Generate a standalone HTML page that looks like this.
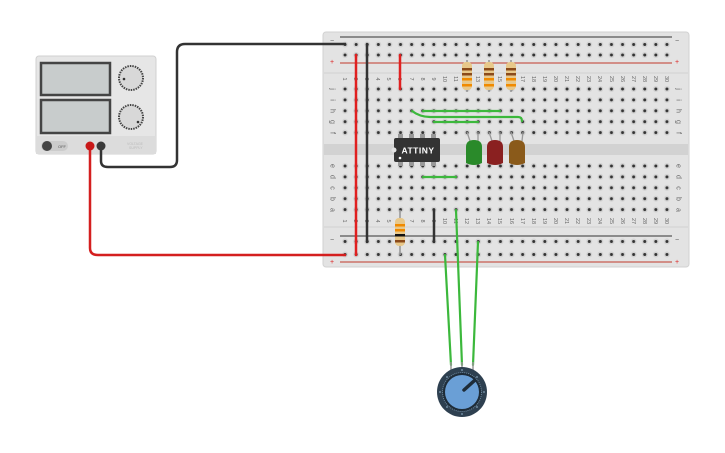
<!DOCTYPE html>
<html><head><meta charset="utf-8"><style>
html,body{margin:0;padding:0;background:#fff;}
svg{display:block;}
text{font-family:"Liberation Sans",sans-serif;}
</style></head><body>
<svg width="725" height="453" viewBox="0 0 725 453" xmlns="http://www.w3.org/2000/svg">
<defs>
<pattern id="row" x="339.5" y="0" width="11.1" height="11" patternUnits="userSpaceOnUse">
<circle cx="5.55" cy="5.5" r="3" fill="#d2d2d2"/><circle cx="5.55" cy="5.5" r="1.5" fill="#333"/>
</pattern>
<g id="res">
<line x1="0" y1="-16" x2="0" y2="16" stroke="#999" stroke-width="1.6"/>
<rect x="-5" y="-14" width="10" height="28" rx="4" fill="#e8c88a"/>
<rect x="-5" y="-8" width="10" height="2.5" fill="#8b4a1a"/>
<rect x="-5" y="-3" width="10" height="2.5" fill="#8b4a1a"/>
<rect x="-5" y="2" width="10" height="2.5" fill="#f08a00"/>
<rect x="-5" y="8" width="10" height="2.5" fill="#f08a00"/>
</g>
</defs>

<!-- power supply -->
<rect x="36" y="56" width="120" height="98" rx="3" fill="#e6e6e6" stroke="#d0d0d0"/>
<rect x="36" y="136" width="120" height="18" fill="#dcdcdc"/>
<rect x="41" y="63" width="69" height="32" fill="#c8cccc" stroke="#444" stroke-width="2.5"/>
<rect x="41" y="100" width="69" height="33" fill="#c8cccc" stroke="#444" stroke-width="2.5"/>
<circle cx="131" cy="78" r="12" fill="#d8d8d8" stroke="#444" stroke-width="2" stroke-dasharray="1.5 1"/>
<circle cx="131" cy="117" r="12" fill="#d8d8d8" stroke="#444" stroke-width="2" stroke-dasharray="1.5 1"/>
<circle cx="124" cy="79" r="1.3" fill="#333"/><circle cx="138" cy="122" r="1.3" fill="#333"/>
<rect x="41" y="141" width="27" height="10" rx="5" fill="#ccc"/><circle cx="47" cy="146" r="5" fill="#444"/>
<text x="58" y="148" font-size="4" fill="#555">OFF</text>
<text x="127" y="145" font-size="3.5" fill="#bbb">VOLTAGE</text>
<text x="129" y="149" font-size="3.5" fill="#bbb">SUPPLY</text>

<!-- breadboard -->
<rect x="323" y="32" width="366" height="235" rx="3" fill="#e3e3e3" stroke="#d2d2d2"/>
<rect x="324" y="144" width="364" height="11" fill="#d2d2d2"/>
<line x1="324" y1="73" x2="688" y2="73" stroke="#d0d0d0"/>
<line x1="324" y1="227" x2="688" y2="227" stroke="#d0d0d0"/>
<line x1="340" y1="37" x2="672" y2="37" stroke="#333" stroke-width="1"/>
<line x1="340" y1="63" x2="672" y2="63" stroke="#c0392b" stroke-width="1"/>
<line x1="340" y1="236" x2="672" y2="236" stroke="#333" stroke-width="1"/>
<line x1="340" y1="262" x2="672" y2="262" stroke="#c0392b" stroke-width="1"/>
<g>
<rect x="339.5" y="0" width="333" height="11" fill="url(#row)" transform="translate(0,39)"/>
<rect x="339.5" y="0" width="333" height="11" fill="url(#row)" transform="translate(0,49.5)"/>
<rect x="339.5" y="0" width="333" height="11" fill="url(#row)" transform="translate(0,83.5)"/>
<rect x="339.5" y="0" width="333" height="11" fill="url(#row)" transform="translate(0,94.4)"/>
<rect x="339.5" y="0" width="333" height="11" fill="url(#row)" transform="translate(0,105.3)"/>
<rect x="339.5" y="0" width="333" height="11" fill="url(#row)" transform="translate(0,116.2)"/>
<rect x="339.5" y="0" width="333" height="11" fill="url(#row)" transform="translate(0,127.1)"/>
<rect x="339.5" y="0" width="333" height="11" fill="url(#row)" transform="translate(0,160.5)"/>
<rect x="339.5" y="0" width="333" height="11" fill="url(#row)" transform="translate(0,171.4)"/>
<rect x="339.5" y="0" width="333" height="11" fill="url(#row)" transform="translate(0,182.3)"/>
<rect x="339.5" y="0" width="333" height="11" fill="url(#row)" transform="translate(0,193.2)"/>
<rect x="339.5" y="0" width="333" height="11" fill="url(#row)" transform="translate(0,204.1)"/>
<rect x="339.5" y="0" width="333" height="11" fill="url(#row)" transform="translate(0,236)"/>
<rect x="339.5" y="0" width="333" height="11" fill="url(#row)" transform="translate(0,249)"/>
</g>
<g font-size="7" fill="#555">
<text x="330" y="43">−</text><text x="330" y="64" fill="#d22">+</text>
<text x="675" y="43">−</text><text x="675" y="64" fill="#d22">+</text>
<text x="330" y="242">−</text><text x="330" y="264" fill="#d22">+</text>
<text x="675" y="242">−</text><text x="675" y="264" fill="#d22">+</text>
</g>
<g font-size="7" fill="#666" text-anchor="middle">
<text transform="translate(333,89) rotate(90)" dy="2.5">j</text><text transform="translate(333,100) rotate(90)" dy="2.5">i</text><text transform="translate(333,111) rotate(90)" dy="2.5">h</text><text transform="translate(333,122) rotate(90)" dy="2.5">g</text><text transform="translate(333,133) rotate(90)" dy="2.5">f</text>
<text transform="translate(333,166) rotate(90)" dy="2.5">e</text><text transform="translate(333,177) rotate(90)" dy="2.5">d</text><text transform="translate(333,188) rotate(90)" dy="2.5">c</text><text transform="translate(333,199) rotate(90)" dy="2.5">b</text><text transform="translate(333,210) rotate(90)" dy="2.5">a</text>
<text transform="translate(679,89) rotate(90)" dy="2.5">j</text><text transform="translate(679,100) rotate(90)" dy="2.5">i</text><text transform="translate(679,111) rotate(90)" dy="2.5">h</text><text transform="translate(679,122) rotate(90)" dy="2.5">g</text><text transform="translate(679,133) rotate(90)" dy="2.5">f</text>
<text transform="translate(679,166) rotate(90)" dy="2.5">e</text><text transform="translate(679,177) rotate(90)" dy="2.5">d</text><text transform="translate(679,188) rotate(90)" dy="2.5">c</text><text transform="translate(679,199) rotate(90)" dy="2.5">b</text><text transform="translate(679,210) rotate(90)" dy="2.5">a</text>
</g>
<g font-size="5.5" fill="#666" text-anchor="middle">
<text transform="translate(345,79) rotate(90)" dy="2">1</text><text transform="translate(356,79) rotate(90)" dy="2">2</text><text transform="translate(367,79) rotate(90)" dy="2">3</text><text transform="translate(378,79) rotate(90)" dy="2">4</text><text transform="translate(389,79) rotate(90)" dy="2">5</text><text transform="translate(400,79) rotate(90)" dy="2">6</text><text transform="translate(412,79) rotate(90)" dy="2">7</text><text transform="translate(423,79) rotate(90)" dy="2">8</text><text transform="translate(434,79) rotate(90)" dy="2">9</text><text transform="translate(445,79) rotate(90)" dy="2">10</text><text transform="translate(456,79) rotate(90)" dy="2">11</text><text transform="translate(467,79) rotate(90)" dy="2">12</text><text transform="translate(478,79) rotate(90)" dy="2">13</text><text transform="translate(489,79) rotate(90)" dy="2">14</text><text transform="translate(500,79) rotate(90)" dy="2">15</text><text transform="translate(512,79) rotate(90)" dy="2">16</text><text transform="translate(523,79) rotate(90)" dy="2">17</text><text transform="translate(534,79) rotate(90)" dy="2">18</text><text transform="translate(545,79) rotate(90)" dy="2">19</text><text transform="translate(556,79) rotate(90)" dy="2">20</text><text transform="translate(567,79) rotate(90)" dy="2">21</text><text transform="translate(578,79) rotate(90)" dy="2">22</text><text transform="translate(589,79) rotate(90)" dy="2">23</text><text transform="translate(600,79) rotate(90)" dy="2">24</text><text transform="translate(612,79) rotate(90)" dy="2">25</text><text transform="translate(623,79) rotate(90)" dy="2">26</text><text transform="translate(634,79) rotate(90)" dy="2">27</text><text transform="translate(645,79) rotate(90)" dy="2">28</text><text transform="translate(656,79) rotate(90)" dy="2">29</text><text transform="translate(667,79) rotate(90)" dy="2">30</text>
<text transform="translate(345,221) rotate(90)" dy="2">1</text><text transform="translate(356,221) rotate(90)" dy="2">2</text><text transform="translate(367,221) rotate(90)" dy="2">3</text><text transform="translate(378,221) rotate(90)" dy="2">4</text><text transform="translate(389,221) rotate(90)" dy="2">5</text><text transform="translate(400,221) rotate(90)" dy="2">6</text><text transform="translate(412,221) rotate(90)" dy="2">7</text><text transform="translate(423,221) rotate(90)" dy="2">8</text><text transform="translate(434,221) rotate(90)" dy="2">9</text><text transform="translate(445,221) rotate(90)" dy="2">10</text><text transform="translate(456,221) rotate(90)" dy="2">11</text><text transform="translate(467,221) rotate(90)" dy="2">12</text><text transform="translate(478,221) rotate(90)" dy="2">13</text><text transform="translate(489,221) rotate(90)" dy="2">14</text><text transform="translate(500,221) rotate(90)" dy="2">15</text><text transform="translate(512,221) rotate(90)" dy="2">16</text><text transform="translate(523,221) rotate(90)" dy="2">17</text><text transform="translate(534,221) rotate(90)" dy="2">18</text><text transform="translate(545,221) rotate(90)" dy="2">19</text><text transform="translate(556,221) rotate(90)" dy="2">20</text><text transform="translate(567,221) rotate(90)" dy="2">21</text><text transform="translate(578,221) rotate(90)" dy="2">22</text><text transform="translate(589,221) rotate(90)" dy="2">23</text><text transform="translate(600,221) rotate(90)" dy="2">24</text><text transform="translate(612,221) rotate(90)" dy="2">25</text><text transform="translate(623,221) rotate(90)" dy="2">26</text><text transform="translate(634,221) rotate(90)" dy="2">27</text><text transform="translate(645,221) rotate(90)" dy="2">28</text><text transform="translate(656,221) rotate(90)" dy="2">29</text><text transform="translate(667,221) rotate(90)" dy="2">30</text>
</g>

<!-- supply wires -->
<path d="M101,146 V161 Q101,167 108,167 H170 Q177,167 177,160 V52 Q177,44 185,44 H346" fill="none" stroke="#333" stroke-width="2.5"/>
<path d="M90,146 V248 Q90,255 98,255 H346" fill="none" stroke="#d41f1f" stroke-width="2.5"/>
<circle cx="90" cy="146" r="4.5" fill="#c81818"/><circle cx="101" cy="146" r="4.5" fill="#3a3a3a"/>

<!-- board wires -->
<g stroke-linecap="round" fill="none">
<line x1="356" y1="55" x2="356" y2="255" stroke="#e02020" stroke-width="2.5"/>
<line x1="367" y1="44" x2="367" y2="242" stroke="#333" stroke-width="2.5"/>
<line x1="400" y1="55" x2="400" y2="89" stroke="#e02020" stroke-width="2.5"/>
<line x1="434" y1="210" x2="434" y2="242" stroke="#333" stroke-width="2.5"/>
<path d="M412,111 Q420,117 430,117 H518 Q522,117 522,121" stroke="#3cb83c" stroke-width="2.2"/>
<line x1="423" y1="111" x2="500" y2="111" stroke="#3cb83c" stroke-width="2.2"/>
<line x1="434" y1="122" x2="478" y2="122" stroke="#3cb83c" stroke-width="2.2"/>
<line x1="423" y1="177" x2="456" y2="177" stroke="#3cb83c" stroke-width="2.2"/>
</g>

<!-- ATTINY -->
<g fill="#999">
<rect x="398" y="134" width="5" height="6"/><rect x="409" y="134" width="5" height="6"/><rect x="420" y="134" width="5" height="6"/><rect x="431" y="134" width="5" height="6"/>
<rect x="398" y="160" width="5" height="6"/><rect x="409" y="160" width="5" height="6"/><rect x="420" y="160" width="5" height="6"/><rect x="431" y="160" width="5" height="6"/>
</g>
<rect x="394" y="138" width="46" height="24" rx="2" fill="#333"/>
<circle cx="394" cy="150" r="2.5" fill="#e3e3e3"/>
<circle cx="400" cy="158" r="1.3" fill="#fff"/>
<text x="418" y="153.5" font-size="8.5" font-weight="bold" fill="#fff" text-anchor="middle" letter-spacing="0.5">ATTINY</text>

<!-- LEDs -->
<g stroke="#999" stroke-width="1.3" fill="none">
<path d="M467,132 L470,141"/><path d="M478,132 L478,141"/>
<path d="M489,132 L492,141"/><path d="M500,132 L500,141"/>
<path d="M511,132 L514,141"/><path d="M523,132 L522,141"/>
</g>
<path d="M466,147 Q466,140 474,140 Q482,140 482,147 V163 Q474,167 466,163 Z" fill="#2a8a2a"/>
<path d="M487,147 Q487,140 495,140 Q503,140 503,147 V163 Q495,167 487,163 Z" fill="#8a2020"/>
<path d="M509,147 Q509,140 517,140 Q525,140 525,147 V163 Q517,167 509,163 Z" fill="#8a5a1a"/>

<!-- resistors -->
<use href="#res" x="467" y="76"/>
<use href="#res" x="489" y="76"/>
<use href="#res" x="511" y="76"/>
<g transform="translate(400,232)">
<line x1="0" y1="-22" x2="0" y2="23" stroke="#999" stroke-width="1.6"/>
<rect x="-5" y="-14" width="10" height="28" rx="4" fill="#e8c88a"/>
<rect x="-5" y="-8" width="10" height="2.5" fill="#f08a00"/>
<rect x="-5" y="-3" width="10" height="2.5" fill="#f08a00"/>
<rect x="-5" y="2" width="10" height="2.5" fill="#111"/>
<rect x="-5" y="8" width="10" height="2.5" fill="#8b4a1a"/>
</g>

<!-- pot wires -->
<g stroke="#3cb83c" stroke-width="2.2" stroke-linecap="round">
<line x1="445" y1="255" x2="451" y2="365"/>
<line x1="456" y1="210" x2="462" y2="365"/>
<line x1="478" y1="242" x2="473" y2="365"/>
</g>
<g stroke="#999" stroke-width="1.5"><line x1="451" y1="362" x2="451" y2="372"/><line x1="462" y1="362" x2="462" y2="372"/><line x1="473" y1="362" x2="473" y2="372"/></g>
<circle cx="462" cy="392" r="25" fill="#2e4050"/>
<circle cx="462" cy="392" r="19.5" fill="#1e2c38" stroke="#6f8aa0" stroke-width="1" stroke-dasharray="1 1"/>
<circle cx="462" cy="392" r="17" fill="#6a9fd6"/>
<line x1="464" y1="390" x2="474" y2="381" stroke="#1e2c38" stroke-width="3.5" stroke-linecap="round"/>
<g fill="#6f8aa0"><circle cx="462" cy="370" r="1"/><circle cx="462" cy="414" r="1"/><circle cx="440" cy="392" r="1"/><circle cx="484" cy="392" r="1"/><circle cx="447" cy="377" r="1"/><circle cx="477" cy="407" r="1"/><circle cx="447" cy="407" r="1"/><circle cx="477" cy="377" r="1"/></g>
</svg>
</body></html>
